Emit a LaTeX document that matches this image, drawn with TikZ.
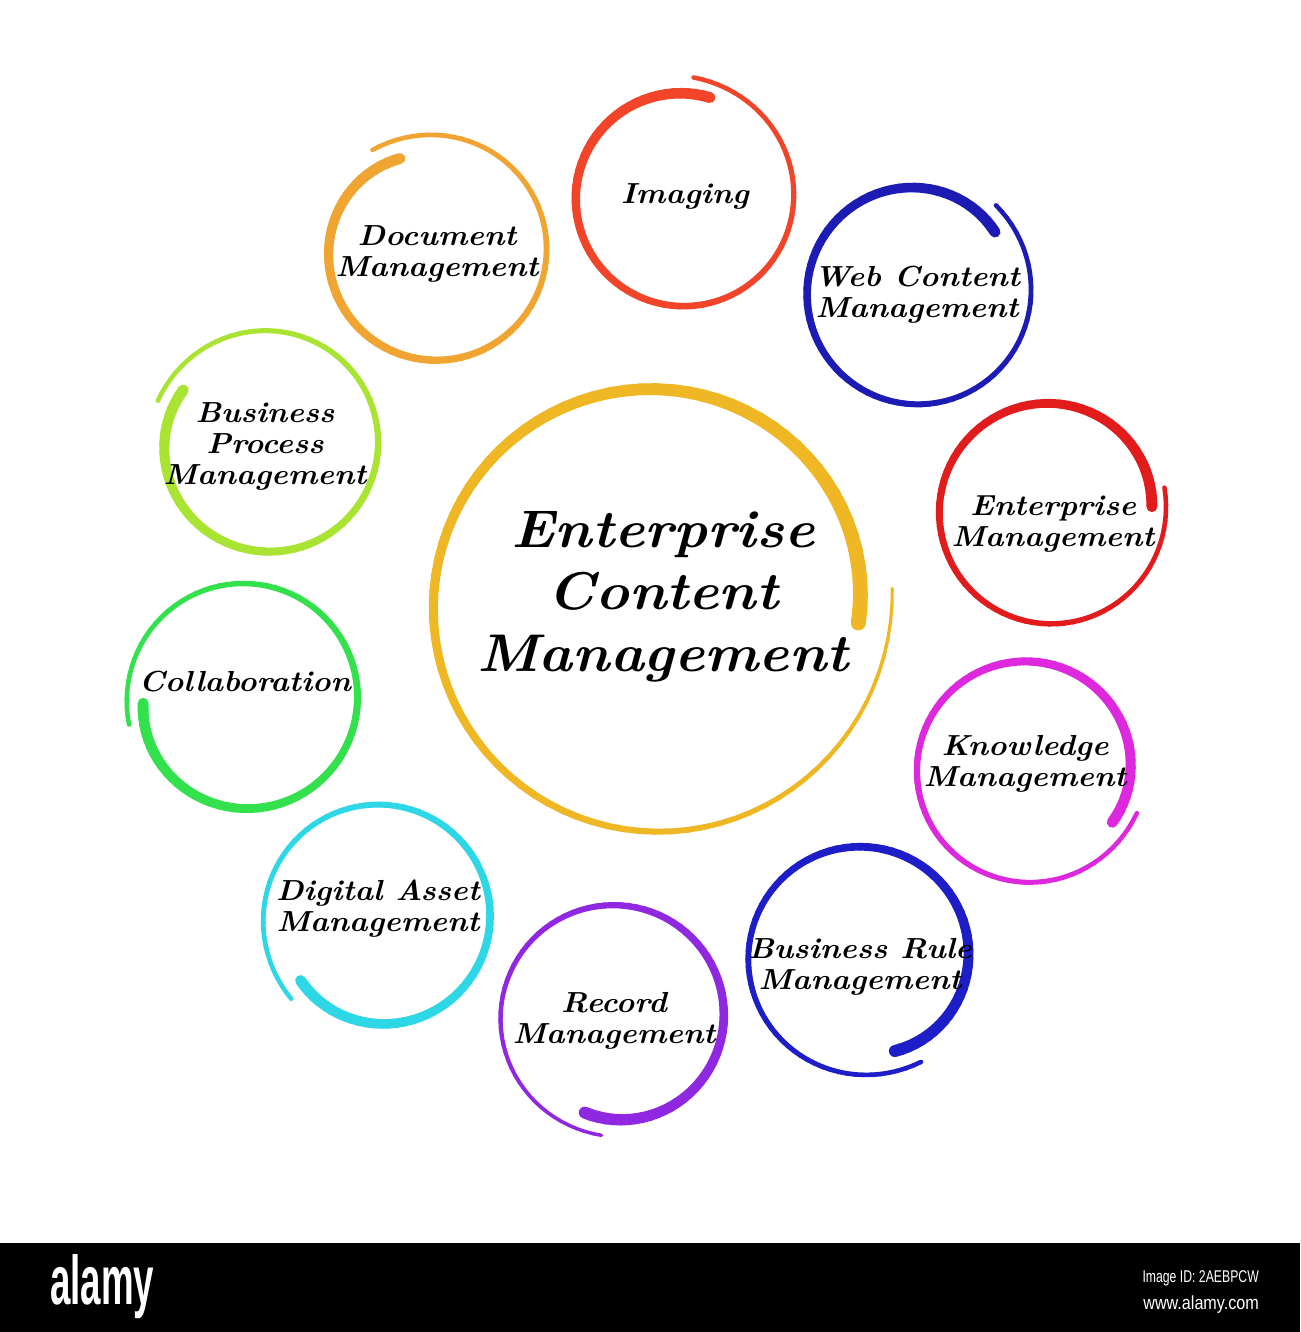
\documentclass[tikz,border=0pt]{standalone}
\usepackage{fontspec}
\usepackage{graphicx}
\newfontfamily\barfont{Liberation Sans}
\definecolor{cGold}{RGB}{238,183,35}
\definecolor{cImg}{RGB}{242,68,40}
\definecolor{cDoc}{RGB}{240,165,50}
\definecolor{cWeb}{RGB}{28,28,180}
\definecolor{cEnt}{RGB}{226,28,28}
\definecolor{cKnow}{RGB}{222,40,222}
\definecolor{cRule}{RGB}{30,30,200}
\definecolor{cRec}{RGB}{145,40,225}
\definecolor{cDig}{RGB}{45,215,230}
\definecolor{cCol}{RGB}{50,225,75}
\definecolor{cBpm}{RGB}{170,228,50}
\newcommand\lbltext[1]{\scalebox{1.08}[1]{\begin{tabular}{@{}c@{}}#1\end{tabular}}}
\begin{document}
\begin{tikzpicture}[x=1pt,y=-1pt,
  lbl/.style={font=\fontsize{29}{31}\selectfont\bfseries\itshape, inner sep=0pt, text=black},
  biglbl/.style={font=\fontsize{53}{62}\selectfont\bfseries\itshape, inner sep=0pt, text=black},
  barlbl/.style={text=white, inner sep=0pt}]
\fill[white] (0,0) rectangle (1300,1332);
\useasboundingbox (0,0) rectangle (1300,1332);
% brush-stroke rings
\foreach \cx/\cy/\R/\s/\sw/\da/\db/\W/\w/\p/\col in {
  655/607/222/4.5/-369/18/16/15/3/1/cGold,
  683/198/108/285/-370/4/13/11/4.5/1.5/cImg,
  435/250/111/249/-371/13/7/11/4.5/1.5/cDoc,
  917/293/111/322/-370/12/7/11/4.5/1.5/cWeb,
  1050/512/111/357/-369/9/6/11/4.5/1.5/cEnt,
  1027/770/110/31.5/-370/10/8/11/4.5/1.5/cKnow,
  861/958/112/70/-370/13/8/12/4.5/1.5/cRule,
  614/1017/112/107/-371/12/7/12/3.5/1.5/cRec,
  379/917/112/141/-364/11/8/11/4.5/1.5/cDig,
  244/698/114/177/-370/13/4/11/4.5/1.5/cCol,
  268/443/110/212/-371/10/8/11/4.5/1.5/cBpm}{
  \foreach \i in {0,...,89}{
    \pgfmathsetmacro\ta{\i/90}
    \pgfmathsetmacro\tb{(\i+1)/90}
    \pgfmathsetmacro\aa{\s+\sw*\ta}
    \pgfmathsetmacro\ab{\s+\sw*\tb}
    \pgfmathsetmacro\ra{\R-\da*(1-\ta)^5+\db*(\ta)^6}
    \pgfmathsetmacro\rb{\R-\da*(1-\tb)^5+\db*(\tb)^6}
    \pgfmathsetmacro\xa{\cx+\ra*cos(\aa)}
    \pgfmathsetmacro\ya{\cy+\ra*sin(\aa)}
    \pgfmathsetmacro\xb{\cx+\rb*cos(\ab)}
    \pgfmathsetmacro\yb{\cy+\rb*sin(\ab)}
    \pgfmathsetmacro\lw{\w+(\W-\w)*(1-(\ta+\tb)/2)^\p}
    \draw[line width=\lw pt, color=\col, line cap=round] (\xa,\ya) -- (\xb,\yb);
  }
}
% labels
\node[biglbl] (ecm) at (663,597) {\lbltext{Enterprise\\Content\\Management}};
\node[lbl] (img) at (685,197) {\lbltext{Imaging}};
\node[lbl] (doc) at (437,255) {\lbltext{Document\\Management}};
\node[lbl] (web) at (917,296) {\lbltext{Web Content\\Management}};
\node[lbl] (ent) at (1053,525) {\lbltext{Enterprise\\Management}};
\node[lbl] (know) at (1025,765) {\lbltext{Knowledge\\Management}};
\node[lbl] (rule) at (860,968) {\lbltext{Business Rule\\Management}};
\node[lbl] (rec) at (614,1022) {\lbltext{Record\\Management}};
\node[lbl] (dig) at (378,910) {\lbltext{Digital Asset\\Management}};
\node[lbl] (col) at (245,685) {\lbltext{Collaboration}};
\node[lbl] (bpm) at (265,447) {\lbltext{Business\\Process\\Management}};
% bottom bar
\fill[black] (0,1243) rectangle (1300,1332);
\node[barlbl, anchor=west] (alamy) at (50,1287) {\resizebox{104pt}{50pt}{\barfont\bfseries alamy}};
\node[barlbl, anchor=east] (imgid) at (1259,1278) {\scalebox{0.72}[1]{\barfont\fontsize{17}{20}\selectfont Image ID: 2AEBPCW}};
\node[barlbl, anchor=east] (www) at (1259,1305) {\scalebox{0.85}[1]{\barfont\fontsize{19}{22}\selectfont www.alamy.com}};
\end{tikzpicture}
\end{document}
